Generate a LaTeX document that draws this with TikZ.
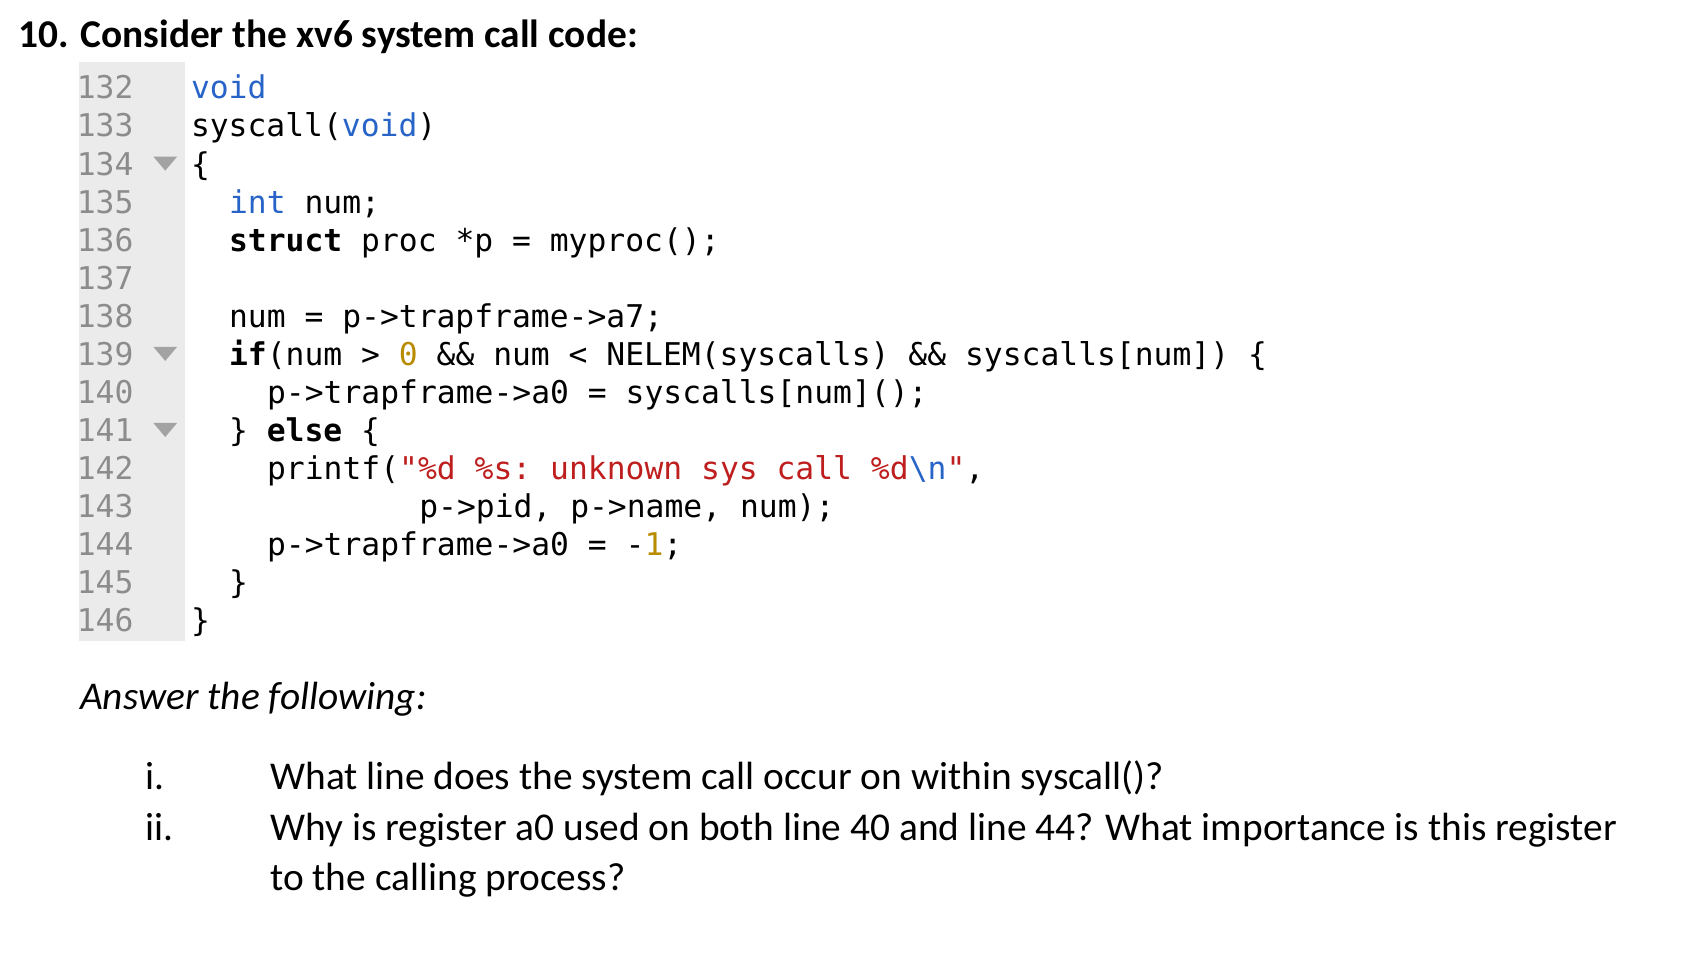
\documentclass[tikz,border=0pt]{standalone}
\usepackage{fontspec}
\setmainfont{Carlito}
\setmonofont{DejaVu Sans Mono}
\definecolor{kw}{RGB}{40,100,200}
\definecolor{str}{RGB}{190,30,30}
\definecolor{numc}{RGB}{185,140,0}
\definecolor{gut}{RGB}{235,235,235}
\definecolor{lnum}{RGB}{140,140,140}
\begin{document}
\begin{tikzpicture}[x=0.01cm,y=-0.01cm,
  code/.style={anchor=base west,inner sep=0,font=\fontsize{8.2pt}{9pt}\ttfamily},
  ln/.style={code,text=lnum},
  txt/.style={anchor=base west,inner sep=0,font=\fontsize{10.3pt}{12pt}\selectfont},
  fold/.style={fill=lnum!80}]
\useasboundingbox (0,0) rectangle (1562,881);
\fill[gut] (73,57) rectangle (170,590);
\node[txt,font=\fontsize{10.3pt}{12pt}\bfseries] (title) at (16,44) {10. Consider the xv6 system call code:};
\foreach \n [count=\k from 0] in {132,...,146}{
  \node[ln] (l\n) at (70,{91+35*\k}) {\n};
}
\foreach \k/\nm in {2/a,7/b,9/c}{
  \fill[fold] (141,{144+35*(\k-2)}) -- (163,{144+35*(\k-2)}) -- (152,{157+35*(\k-2)}) -- cycle;
}
\node[code] (c132) at (175,91) {\textcolor{kw}{void}};
\node[code] (c133) at (175,126) {syscall(\textcolor{kw}{void})};
\node[code] (c134) at (175,161) {\{};
\node[code] (c135) at (210,196) {\textcolor{kw}{int} num;};
\node[code] (c136) at (210,231) {\textbf{struct} proc *p = myproc();};
\node[code] (c138) at (210,301) {num = p->trapframe->a7;};
\node[code] (c139) at (210,336) {\textbf{if}(num > \textcolor{numc}{0} \&\& num < NELEM(syscalls) \&\& syscalls[num]) \{};
\node[code] (c140) at (245,371) {p->trapframe->a0 = syscalls[num]();};
\node[code] (c141) at (210,406) {\} \textbf{else} \{};
\node[code] (c142) at (245,441) {printf(\textcolor{str}{"\%d \%s: unknown sys call \%d}\textcolor{kw}{\textbackslash n}\textcolor{str}{"},};
\node[code] (c143) at (385,476) {p->pid, p->name, num);};
\node[code] (c144) at (245,511) {p->trapframe->a0 = -\textcolor{numc}{1};};
\node[code] (c145) at (210,546) {\}};
\node[code] (c146) at (175,581) {\}};
\node[txt,font=\fontsize{10.3pt}{12pt}\itshape] (ans) at (73,653) {Answer the following:};
\node[txt] (i1) at (133,726) {i.};
\node[txt] (q1) at (248,726) {What line does the system call occur on within syscall()?};
\node[txt] (i2) at (133,773) {ii.};
\node[txt] (q2) at (248,773) {Why is register a0 used on both line 40 and line 44? What importance is this register};
\node[txt] (q2b) at (248,819) {to the calling process?};
\end{tikzpicture}
\end{document}
